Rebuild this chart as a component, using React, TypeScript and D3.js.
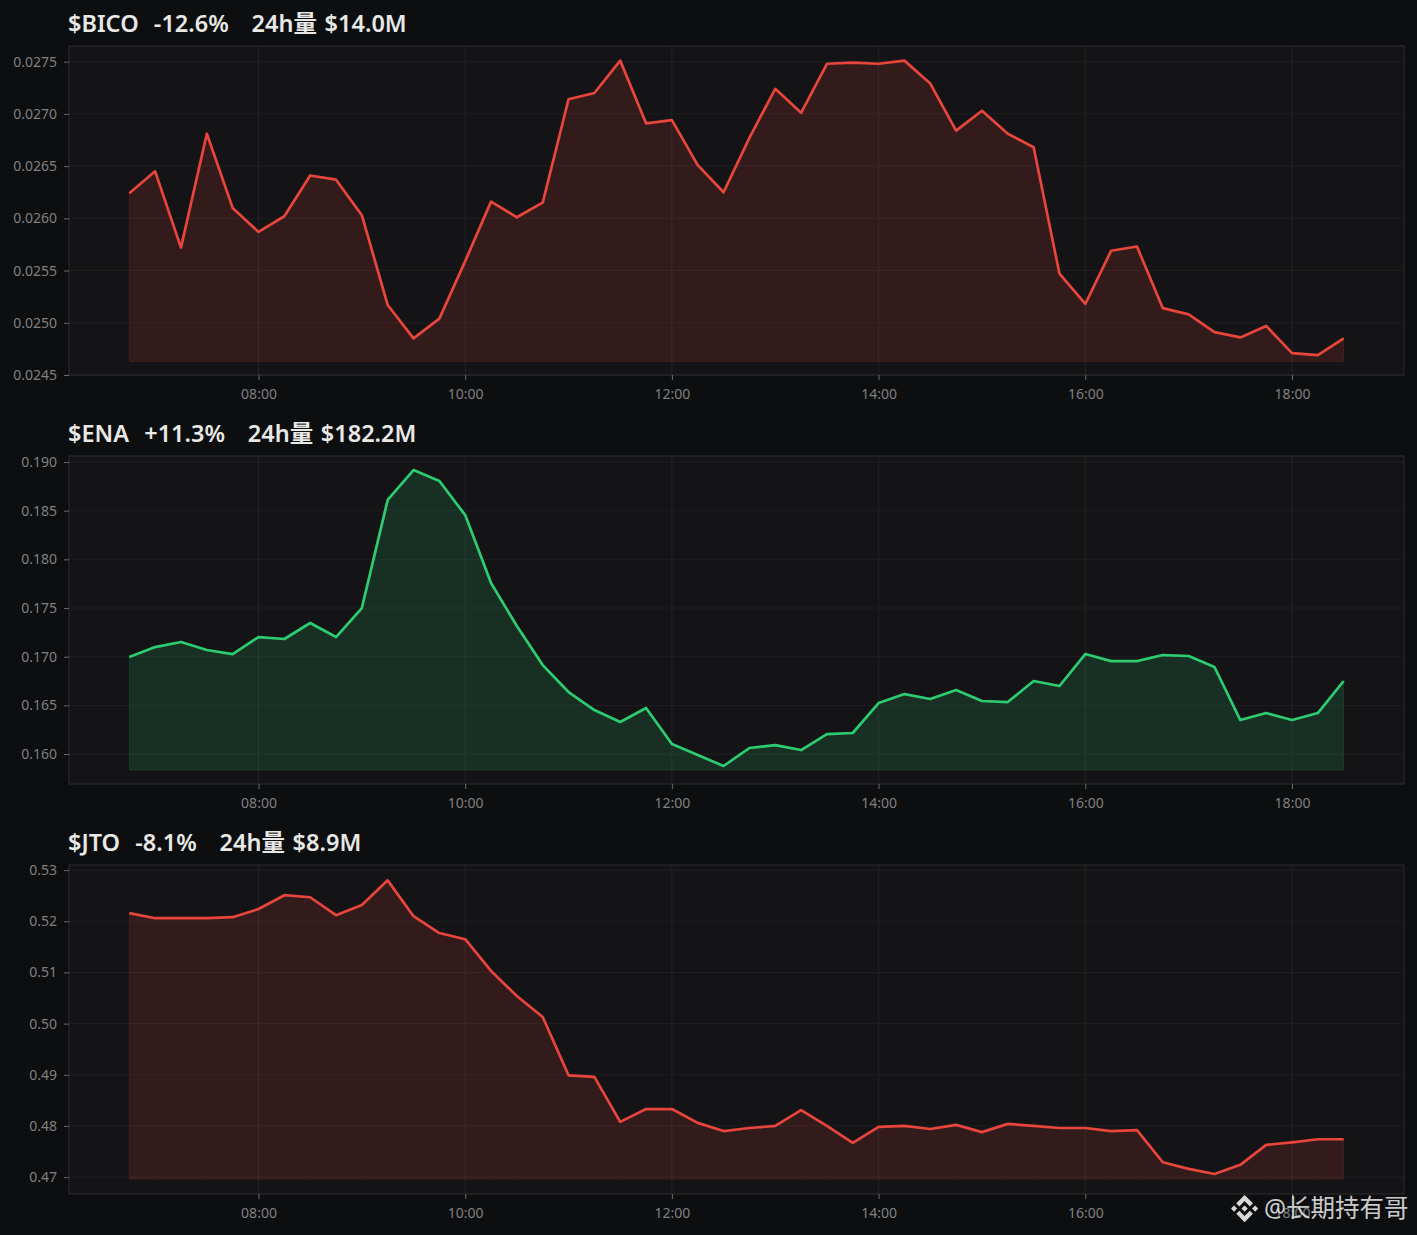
import React, { useEffect, useRef } from "react";
import * as d3 from "d3";

// quarter-hour samples, 06:45 to 18:30
const hours = d3.range(48).map((i) => 6.75 + i * 0.25);
const xTicks = [8, 10, 12, 14, 16, 18];

const bico = [
  0.02624, 0.02645, 0.02572, 0.02681, 0.0261, 0.02587, 0.02602, 0.02641, 0.02637, 0.02603, 0.02517, 0.02485,
  0.02504, 0.02559, 0.02616, 0.02601, 0.02615, 0.02714, 0.0272, 0.02751, 0.02691, 0.02694, 0.02651, 0.02625,
  0.02677, 0.02724, 0.02701, 0.02748, 0.02749, 0.02748, 0.02751, 0.02729, 0.02684, 0.02703, 0.02681, 0.02668,
  0.02547, 0.02518, 0.02569, 0.02573, 0.02514, 0.02508, 0.02491, 0.02486, 0.02497, 0.02471, 0.02469, 0.02485,
];
const ena = [
  0.16997, 0.17099, 0.17151, 0.17069, 0.17027, 0.17202, 0.17182, 0.17346, 0.17202, 0.175, 0.1861, 0.18918,
  0.18805, 0.18455, 0.17757, 0.17315, 0.16914, 0.16637, 0.16452, 0.16329, 0.16473, 0.16103, 0.1599, 0.15877,
  0.16062, 0.16092, 0.16041, 0.16205, 0.16216, 0.16524, 0.16616, 0.16565, 0.16658, 0.16545, 0.16534, 0.1675,
  0.16699, 0.17027, 0.16955, 0.16955, 0.17017, 0.17007, 0.16894, 0.16349, 0.16421, 0.16349, 0.16421, 0.1675,
];
const jto = [
  0.5216, 0.5206, 0.5206, 0.5206, 0.5208, 0.5224, 0.5251, 0.5247, 0.5212, 0.5232, 0.528, 0.521, 0.5177, 0.5165,
  0.5103, 0.5054, 0.5013, 0.4899, 0.4896, 0.4808, 0.4833, 0.4833, 0.4806, 0.479, 0.4796, 0.48, 0.4831, 0.48,
  0.4767, 0.4798, 0.48, 0.4794, 0.4802, 0.4788, 0.4804, 0.48, 0.4796, 0.4796, 0.479, 0.4792, 0.4729, 0.4716,
  0.4706, 0.4724, 0.4763, 0.4768, 0.4774, 0.4774,
];

const bicoTicks = [0.0245, 0.025, 0.0255, 0.026, 0.0265, 0.027, 0.0275];
const enaTicks = [0.16, 0.165, 0.17, 0.175, 0.18, 0.185, 0.19];
const jtoTicks = [0.47, 0.48, 0.49, 0.5, 0.51, 0.52, 0.53];

const FONT = '"Noto Sans", "Noto Sans CJK SC", sans-serif';
const RED = "#e8453c";
const GREEN = "#2ecc71";

type Panel = {
  title: string;
  values: number[];
  ticks: number[];
  format: string;
  domain: [number, number];
  floor: number;
  color: string;
  top: number;
  bottom: number;
};

const panels: Panel[] = [
  { title: "$BICO  -12.6%   24h量 $14.0M", values: bico, ticks: bicoTicks, format: ".4f", domain: [0.0245, 0.02765], floor: 0.02463, color: RED, top: 46, bottom: 375 },
  { title: "$ENA  +11.3%   24h量 $182.2M", values: ena, ticks: enaTicks, format: ".3f", domain: [0.15692, 0.19062], floor: 0.15836, color: GREEN, top: 456, bottom: 784 },
  { title: "$JTO  -8.1%   24h量 $8.9M", values: jto, ticks: jtoTicks, format: ".2f", domain: [0.4667, 0.531], floor: 0.4696, color: RED, top: 865, bottom: 1194 },
];

const width = 1417;
const height = 1235;
const left = 69;
const right = 1404;
const hourPx = 103.35;

// Binance mark, 32 unit box
const logoPaths = [
  "M9.8 13.4 16 7.2l6.2 6.2 3.6-3.6L16 0 6.2 9.8z",
  "M0 16l3.6-3.6L7.2 16l-3.6 3.6z",
  "M9.8 18.6 16 24.8l6.2-6.2 3.6 3.6L16 32l-9.8-9.8z",
  "M24.8 16l3.6-3.6L32 16l-3.6 3.6z",
  "M19.7 16 16 12.3 12.3 16 16 19.7z",
];

export default function App() {
  const ref = useRef<SVGSVGElement>(null);

  useEffect(() => {
    document.body.style.margin = "0";
    document.body.style.background = "#0d0e10";

    const svg = d3.select(ref.current);
    svg.selectAll("*").remove();
    svg.append("rect").attr("width", width).attr("height", height).attr("fill", "#0d0e10");

    const x = d3
      .scaleLinear()
      .domain([8 - (258.5 - left) / hourPx, 8 + (right - 258.5) / hourPx])
      .range([left, right]);

    panels.forEach((p) => {
      const plotH = p.bottom - p.top;
      const y = d3.scaleLinear().domain(p.domain).range([p.bottom, p.top]);
      const g = svg.append("g");

      g.append("rect")
        .attr("x", left)
        .attr("y", p.top)
        .attr("width", right - left)
        .attr("height", plotH)
        .attr("fill", "#141416");

      // grid
      g.selectAll("line.gx")
        .data(xTicks)
        .enter()
        .append("line")
        .attr("x1", (d) => x(d))
        .attr("x2", (d) => x(d))
        .attr("y1", p.top)
        .attr("y2", p.bottom)
        .attr("stroke", "#232326");
      g.selectAll("line.gy")
        .data(p.ticks)
        .enter()
        .append("line")
        .attr("x1", left)
        .attr("x2", right)
        .attr("y1", (d) => y(d))
        .attr("y2", (d) => y(d))
        .attr("stroke", "#1f1f22");

      const area = d3
        .area<number>()
        .x((_, i) => x(hours[i]))
        .y0(y(p.floor))
        .y1((d) => y(d));
      const line = d3
        .line<number>()
        .x((_, i) => x(hours[i]))
        .y((d) => y(d));

      g.append("path")
        .attr("d", area(p.values))
        .attr("fill", p.color)
        .attr("fill-opacity", 0.15)
        .attr("stroke", p.color)
        .attr("stroke-opacity", 0.15);

      g.append("path")
        .attr("d", line(p.values))
        .attr("fill", "none")
        .attr("stroke", p.color)
        .attr("stroke-width", 2.7)
        .attr("stroke-linejoin", "round");

      g.append("rect")
        .attr("x", left)
        .attr("y", p.top)
        .attr("width", right - left)
        .attr("height", plotH)
        .attr("fill", "none")
        .attr("stroke", "#2c2c2f");

      const xAxis = g
        .append("g")
        .attr("transform", `translate(0,${p.bottom})`)
        .call(
          d3
            .axisBottom(x)
            .tickValues(xTicks)
            .tickSize(5)
            .tickPadding(9)
            .tickFormat((d) => `${String(d).padStart(2, "0")}:00`)
        );
      const yAxis = g
        .append("g")
        .attr("transform", `translate(${left},0)`)
        .call(d3.axisLeft(y).tickValues(p.ticks).tickSize(5).tickPadding(7).tickFormat(d3.format(p.format) as any));

      [xAxis, yAxis].forEach((a) => {
        a.select(".domain").remove();
        a.selectAll("line").attr("stroke", "#6a6a6a");
        a.selectAll("text").attr("fill", "#808080").attr("font-family", FONT).attr("font-size", 14);
      });

      g.append("text")
        .attr("x", 68)
        .attr("y", p.top - 14)
        .attr("fill", "#e8e8e6")
        .attr("font-family", FONT)
        .attr("font-size", 23.5)
        .attr("font-weight", 600)
        .attr("word-spacing", 1.5)
        .style("white-space", "pre")
        .text(p.title);
    });

    // watermark
    const mark = svg.append("g").attr("transform", "translate(1231,1195) scale(0.85)").attr("fill", "#d8d8d8");
    logoPaths.forEach((d) => mark.append("path").attr("d", d));

    svg
      .append("text")
      .attr("x", 1264)
      .attr("y", 1217)
      .attr("fill", "#e4e4e4")
      .attr("fill-opacity", 0.9)
      .attr("font-family", FONT)
      .attr("font-size", 24.5)
      .text("@长期持有哥");
  }, []);

  return <svg ref={ref} width={width} height={height} style={{ display: "block" }} />;
}
